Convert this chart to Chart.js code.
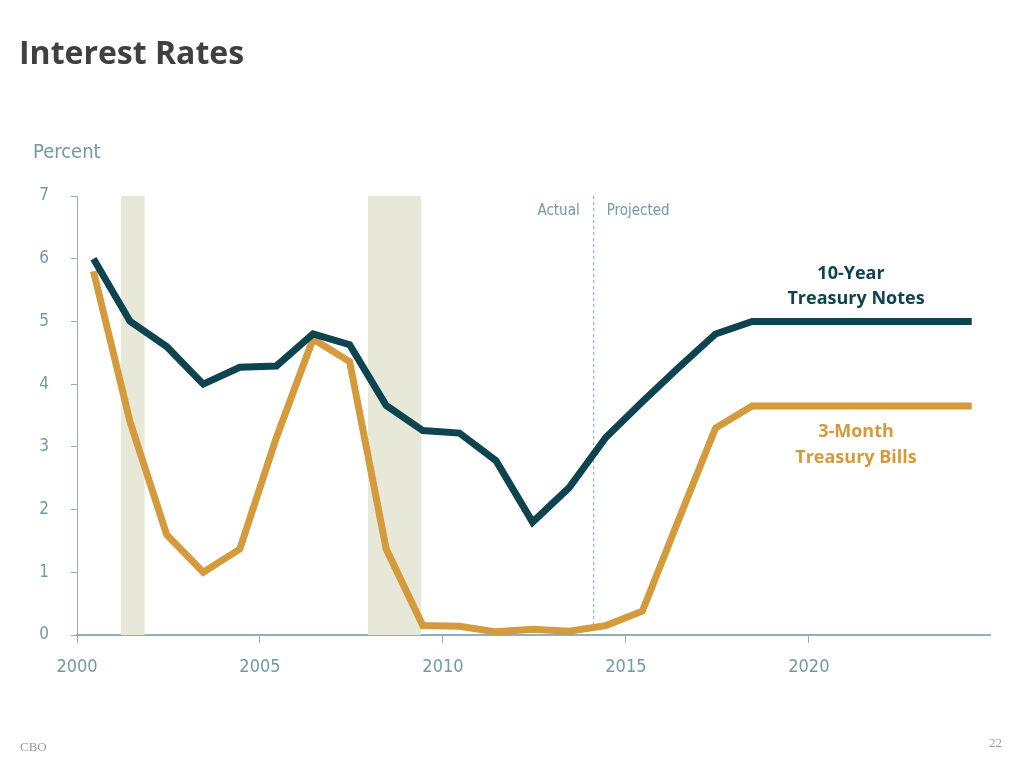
<!DOCTYPE html>
<html><head><meta charset="utf-8">
<script src="https://cdn.jsdelivr.net/npm/chart.js@4"></script>
<style>body{margin:0;background:#fff}#c{display:block}</style></head>
<body><canvas id="c" width="1024" height="768"></canvas>
<script>
const years = [2000,2001,2002,2003,2004,2005,2006,2007,2008,2009,2010,2011,2012,2013,2014,2015,2016,2017,2018,2019,2020,2021,2022,2023,2024];
const notes10 = [6.0,5.0,4.6,4.0,4.27,4.29,4.8,4.63,3.66,3.26,3.22,2.78,1.80,2.35,3.15,3.72,4.27,4.8,5.0,5.0,5.0,5.0,5.0,5.0,5.0];
const bills3 = [5.8,3.4,1.6,1.0,1.37,3.15,4.72,4.36,1.37,0.15,0.14,0.05,0.09,0.06,0.15,0.38,1.85,3.3,3.65,3.65,3.65,3.65,3.65,3.65,3.65];
const recessions = [[2001.2,2001.85],[2007.95,2009.4]];
const actualEnd = 2014.12;
const xTicks = [2000,2005,2010,2015,2020];
const yTicks = [0,1,2,3,4,5,6,7];
const tickColor = '#6f9aa6', axisColor = '#8fb0bb';

const deco = {
  id:'deco',
  beforeDatasetsDraw(ch){
    const {ctx, scales:{x,y}, chartArea:a} = ch;
    ctx.save();
    ctx.fillStyle = '#e8e8d8';
    recessions.forEach(([s,e])=>{ctx.fillRect(x.getPixelForValue(s), a.top, x.getPixelForValue(e)-x.getPixelForValue(s), a.bottom-a.top);});
    const vx = x.getPixelForValue(actualEnd);
    ctx.strokeStyle = '#7fa6b3'; ctx.lineWidth=1; ctx.setLineDash([3,3]);
    ctx.beginPath(); ctx.moveTo(vx,a.top); ctx.lineTo(vx,a.bottom); ctx.stroke();
    ctx.setLineDash([]);
    ctx.font = '15px "DejaVu Sans Condensed", sans-serif'; ctx.fillStyle = tickColor; ctx.textBaseline='middle';
    ctx.textAlign='right'; ctx.fillText('Actual', vx-14, 211);
    ctx.textAlign='left'; ctx.fillText('Projected', vx+13, 211);
    ctx.restore();
  },
  afterDraw(ch){
    const {ctx} = ch;
    ctx.save();
    ctx.fillStyle='#404040'; ctx.font='bold 32px "Open Sans", sans-serif'; ctx.textBaseline='middle'; ctx.textAlign='left';
    ctx.fillText('Interest Rates', 19, 55);
    ctx.fillStyle=tickColor; ctx.font='20px "DejaVu Sans Condensed", sans-serif';
    ctx.fillText('Percent', 33, 153);
    ctx.textAlign='center'; ctx.font='bold 18px "Open Sans", sans-serif';
    ctx.fillStyle='#0d4450'; ctx.fillText('10-Year',851,274); ctx.fillText('Treasury Notes',856,299);
    ctx.fillStyle='#d59a3b'; ctx.fillText('3-Month',856,432); ctx.fillText('Treasury Bills',856,458);
    ctx.fillStyle='#999'; ctx.font='13px "Liberation Serif", serif'; ctx.textAlign='left';
    ctx.fillText('CBO',20,748); ctx.textAlign='right'; ctx.fillText('22',1002,744);
    ctx.restore();
  }
};

new Chart(document.getElementById('c'),{
  type:'line',
  data:{datasets:[
    {data:years.map((v,i)=>({x:v+0.45,y:notes10[i]})),borderColor:'#0d4450',borderWidth:7,pointRadius:0,tension:0},
    {data:years.map((v,i)=>({x:v+0.45,y:bills3[i]})),borderColor:'#d59a3b',borderWidth:7,pointRadius:0,tension:0}
  ]},
  options:{
    responsive:false,animation:false,
    layout:{padding:{top:196,right:34,left:0,bottom:0}},
    plugins:{legend:{display:false},tooltip:{enabled:false}},
    scales:{
      x:{type:'linear',min:2000,max:2024.95,
        afterFit(s){s.height=133;},
        afterBuildTicks(s){s.ticks=xTicks.map(v=>({value:v}));},
        grid:{display:true,drawOnChartArea:false,color:axisColor,tickLength:8},
        border:{color:axisColor,width:2},
        ticks:{callback:v=>String(v),color:tickColor,font:{family:'"DejaVu Sans Condensed", sans-serif',size:18},padding:14,maxRotation:0}},
      y:{min:0,max:7,
        afterFit(s){s.width=77;},
        afterBuildTicks(s){s.ticks=yTicks.map(v=>({value:v}));},
        grid:{display:true,drawOnChartArea:false,color:axisColor,tickLength:6},
        border:{color:axisColor,width:1},
        ticks:{color:tickColor,font:{family:'"DejaVu Sans Condensed", sans-serif',size:17},padding:22}}
    }
  },
  plugins:[deco]
});
</script></body></html>
